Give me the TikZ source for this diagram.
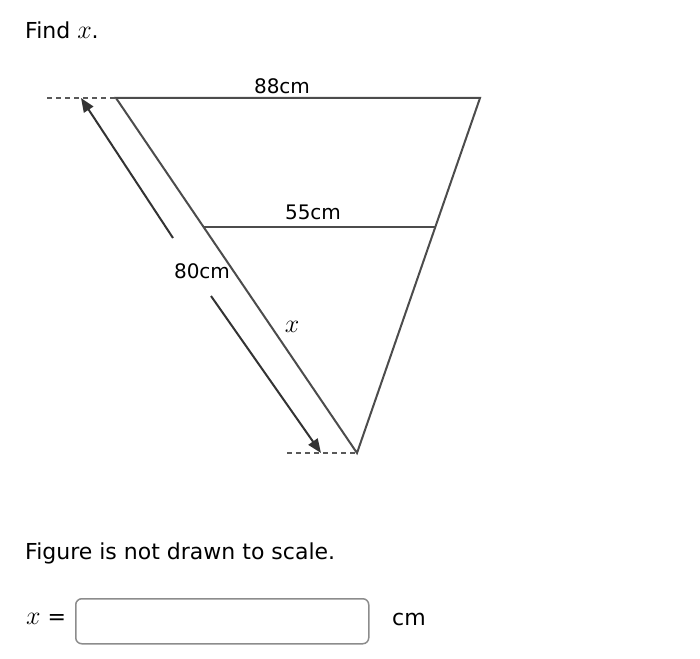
\RequirePackage{fix-cm}
\documentclass[tikz,border=0pt]{standalone}
\usepackage{fontspec}
\setmainfont{DejaVu Sans}
\usetikzlibrary{arrows.meta}
\newcommand\myvarx{{\fontsize{26}{30}\selectfont$x$}}
\begin{document}
\begin{tikzpicture}[x=1pt,y=-1pt,
  edge/.style={draw=black!70, line width=2pt},
  dashline/.style={draw=black!65, line width=2.4pt, dash pattern=on 5pt off 4pt},
  dimline/.style={draw=black!80, line width=2pt, -{Triangle[length=14pt,width=11pt]}},
  lbl/.style={font=\fontsize{20}{24}\selectfont, inner sep=0pt},
  txt/.style={font=\fontsize{22}{26}\selectfont, inner sep=0pt, anchor=west},
  ansbox/.style={draw=black!45, line width=1.5pt, rounded corners=6pt}]
\useasboundingbox (0,0) rectangle (700,658);
% vertices
\coordinate (TL) at (116,98);
\coordinate (TR) at (480,98);
\coordinate (B) at (357,453);
\coordinate (ML) at (203.6,227);
\coordinate (MR) at (435.3,227);
\coordinate (DTL) at (47,98);
\coordinate (DBL) at (287,453);
\coordinate (AT) at (81,98);
\coordinate (AB) at (321,453);
\coordinate (G1) at (173,238);
\coordinate (G2) at (211,296);
% triangle
\draw[edge] (TL) -- (TR) -- (B) -- cycle;
\draw[edge] (ML) -- (MR);
\draw[dashline] (DTL) -- (TL);
\draw[dashline] (DBL) -- (B);
% dimension arrow
\draw[dimline] (G1) -- (AT);
\draw[dimline] (G2) -- (AB);
% labels
\node[lbl] (l88) at (282,86) {88cm};
\node[lbl] (l55) at (313,212) {55cm};
\node[lbl] (l80) at (202,271) {80cm};
\node[lbl] (lx) at (292,327) {\myvarx};
% texts
\node[txt] (find) at (25,30) {Find \myvarx.};
\node[txt] (note) at (25,553) {Figure is not drawn to scale.};
\node[txt] (xeq) at (26,619) {\myvarx{} =};
\node[ansbox, minimum width=293pt, minimum height=45pt, anchor=north west] (box) at (75,598) {};
\node[txt] (cm) at (392,619) {cm};
\end{tikzpicture}
\end{document}
